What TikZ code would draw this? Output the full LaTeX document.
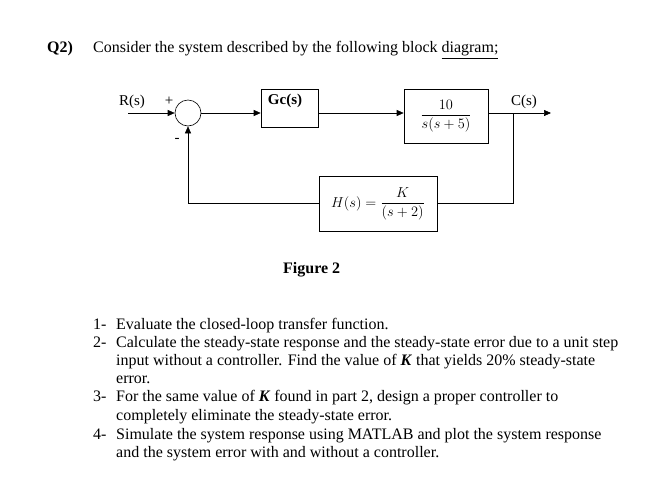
\documentclass[tikz,border=0pt]{standalone}
\usepackage{amsmath}
\usepackage{fontspec}
\setmainfont{Liberation Serif}
\usetikzlibrary{arrows.meta}
\begin{document}
\begin{tikzpicture}[x=1pt,y=-1pt,
  blk/.style={draw,line width=0.6pt,inner sep=0pt},
  wire/.style={line width=0.6pt},
  arr/.style={wire,-{Triangle[length=7pt,width=6pt]}},
  txt/.style={anchor=base west,inner sep=0pt,font=\fontsize{16}{18}\selectfont},
  lbl/.style={inner sep=0pt,font=\fontsize{15}{17}\selectfont}]
\useasboundingbox (0,0) rectangle (651,483);
\node[txt] (q) at (47,52) {\textbf{Q2)}};
\node[txt] (intro) at (93,52) {Consider the system described by the following block \underline{diagram;}};
% blocks
\node[blk,circle,minimum size=26pt] (sum) at (188,113) {};
\node[blk,minimum width=57pt,minimum height=38pt] (gc) at (289.5,108) {};
\node[lbl,anchor=north] (gct) at (285,94) {\textbf{Gc(s)}};
\node[blk,minimum width=84pt,minimum height=54pt] (g) at (446,116) {};
\node[lbl] (gt) at (446,116) {$\dfrac{10}{s(s+5)}$};
\node[blk,minimum width=118pt,minimum height=55pt] (h) at (378,203.5) {};
\node[lbl] (ht) at (378,204) {$H(s)=\dfrac{K}{(s+2)}$};
\coordinate (rin) at (128,113);
\coordinate (cout) at (551,113);
\coordinate (br) at (513,113);
\node[lbl] (r) at (132,102) {R(s)};
\node[lbl] (c) at (524,102) {C(s)};
\node[lbl] (plus) at (169,101) {+};
\node[lbl] (minus) at (177,140) {-};
\draw[arr] (rin) -- (sum.west);
\draw[arr] (sum.east) -- (gc.west|-sum);
\draw[arr] (gc.east|-sum) -- (g.west|-sum);
\draw[arr] (g.east|-sum) -- (cout);
\draw[wire] (br) |- (h.east);
\draw[arr] (h.west) -| (sum.south);
\node[txt] (fig) at (283,273) {\textbf{Figure 2}};
% list
\foreach \n/\y in {1/329,2/347,3/401,4/439} \node[txt] at (93,\y) {\n-};
\node[txt] at (116,329) {Evaluate the closed-loop transfer function.};
\node[txt] at (116,347) {Calculate the steady-state response and the steady-state error due to a unit step};
\node[txt] at (116,365) {input without a controller. Find the value of \textbf{\textit{K}} that yields 20\% steady-state};
\node[txt] at (116,383) {error.};
\node[txt] at (116,401) {For the same value of \textbf{\textit{K}} found in part 2, design a proper controller to};
\node[txt] at (116,420) {completely eliminate the steady-state error.};
\node[txt] at (116,439) {Simulate the system response using MATLAB and plot the system response};
\node[txt] at (116,457) {and the system error with and without a controller.};
\end{tikzpicture}
\end{document}
